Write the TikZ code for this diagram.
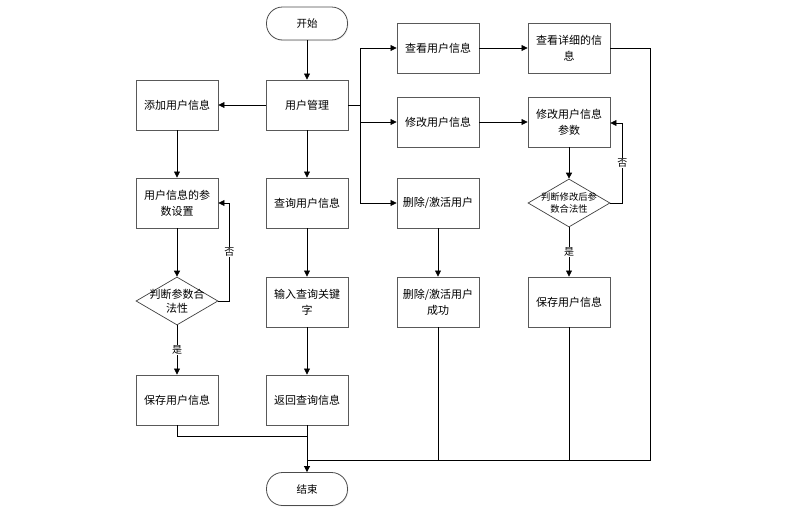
\documentclass[tikz,border=0pt]{standalone}
\usepackage{fontspec}
\newfontfamily\cjk{Noto Sans CJK SC}
\usetikzlibrary{arrows.meta,shapes.geometric,shadows}
\begin{document}
\begin{tikzpicture}[x=1pt,y=-1pt,
  box/.style={draw=black!65, line width=0.9pt, fill=white, minimum width=82pt, minimum height=50pt,
    inner sep=1pt, align=center, font=\cjk\fontsize{11}{16}\selectfont,
    drop shadow={shadow xshift=1pt, shadow yshift=-1pt, fill=black!12}},
  term/.style={draw=black!70, line width=0.8pt, fill=white, rounded corners=16pt, minimum width=81pt,
    minimum height=33pt, inner sep=1pt, font=\cjk\fontsize{10.5}{14}\selectfont,
    drop shadow={shadow xshift=1pt, shadow yshift=-1pt, fill=black!12}},
  dia/.style={diamond, draw=black!75, line width=0.7pt, fill=white, minimum width=82pt, minimum height=48pt, inner sep=0pt},
  diatext/.style={align=center, font=\cjk\fontsize{11}{14}\selectfont, inner sep=0pt},
  arr/.style={-{Triangle[length=6pt,width=6pt]}, line width=0.7pt},
  ln/.style={line width=0.7pt},
  lbl/.style={fill=white, inner sep=1pt, font=\cjk\fontsize{10}{11}\selectfont}
]
\useasboundingbox (0,0) rectangle (796,509);

% middle column
\node[term] (start) at (307,23.5) {开始};
\node[box] (um) at (307,105) {用户管理};
\node[box] (q1) at (307,203) {查询用户信息};
\node[box] (q2) at (307,302) {输入查询关键\\字};
\node[box] (q3) at (307,400) {返回查询信息};
\node[term] (end) at (307,489) {结束};

% left column
\node[box] (add) at (177,105) {添加用户信息};
\node[box] (param) at (177,203) {用户信息的参\\数设置};
\node[dia] (d1) at (177,301) {};
\node[diatext] (d1t) at (177,301) {判断参数合\\法性};
\node[box] (save1) at (177,400) {保存用户信息};

% right columns
\node[box] (v1) at (438,48) {查看用户信息};
\node[box] (v2) at (569,48) {查看详细的信\\息};
\node[box] (m1) at (438,122) {修改用户信息};
\node[box] (m2) at (569,122) {修改用户信息\\参数};
\node[box] (del) at (438,203) {删除/激活用户};
\node[dia] (d2) at (569,203) {};
\node[diatext, font=\cjk\fontsize{9.3}{12.5}\selectfont] (d2t) at (569,203) {判断修改后参\\数合法性};
\node[box] (delok) at (438,302) {删除/激活用户\\成功};
\node[box] (save2) at (569,302) {保存用户信息};

% middle connectors
\draw[arr] (start) -- (um);
\draw[arr] (um) -- (q1);
\draw[arr] (q1) -- (q2);
\draw[arr] (q2) -- (q3);
\draw[arr] (q3) -- (end);

% left connectors
\draw[arr] (um) -- (add);
\draw[arr] (add) -- (param);
\draw[arr] (param) -- (d1);
\draw[arr] (d1) -- node[lbl] {是} (save1);
\draw[arr] (d1.east) -- ++(11,0) |- node[lbl, pos=0.25] {否} (param.east);

% branch to right
\coordinate (j) at (360,105);
\draw[ln] (um.east) -- (j);
\draw[arr] (j) |- (v1.west);
\draw[arr] (j) |- (m1.west);
\draw[arr] (j) |- (del.west);
\draw[arr] (v1) -- (v2);
\draw[arr] (m1) -- (m2);
\draw[arr] (m2) -- (d2);
\draw[arr] (d2) -- node[lbl] {是} (save2);
\draw[arr] (d2.east) -- ++(12,0) |- node[lbl, pos=0.25] {否} ([yshift=-1pt]m2.east);
\draw[arr] (del) -- (delok);

% bottom merging lines
\coordinate (b1) at (307,436);
\coordinate (b2) at (307,460);
\coordinate (rc) at (650,460);
\draw[ln] (save1.south) |- (b1);
\draw[ln] (delok.south) |- (b2);
\draw[ln] (save2.south) |- (b2);
\draw[ln] (v2.east) -| (rc) -- (b2);
\end{tikzpicture}
\end{document}
